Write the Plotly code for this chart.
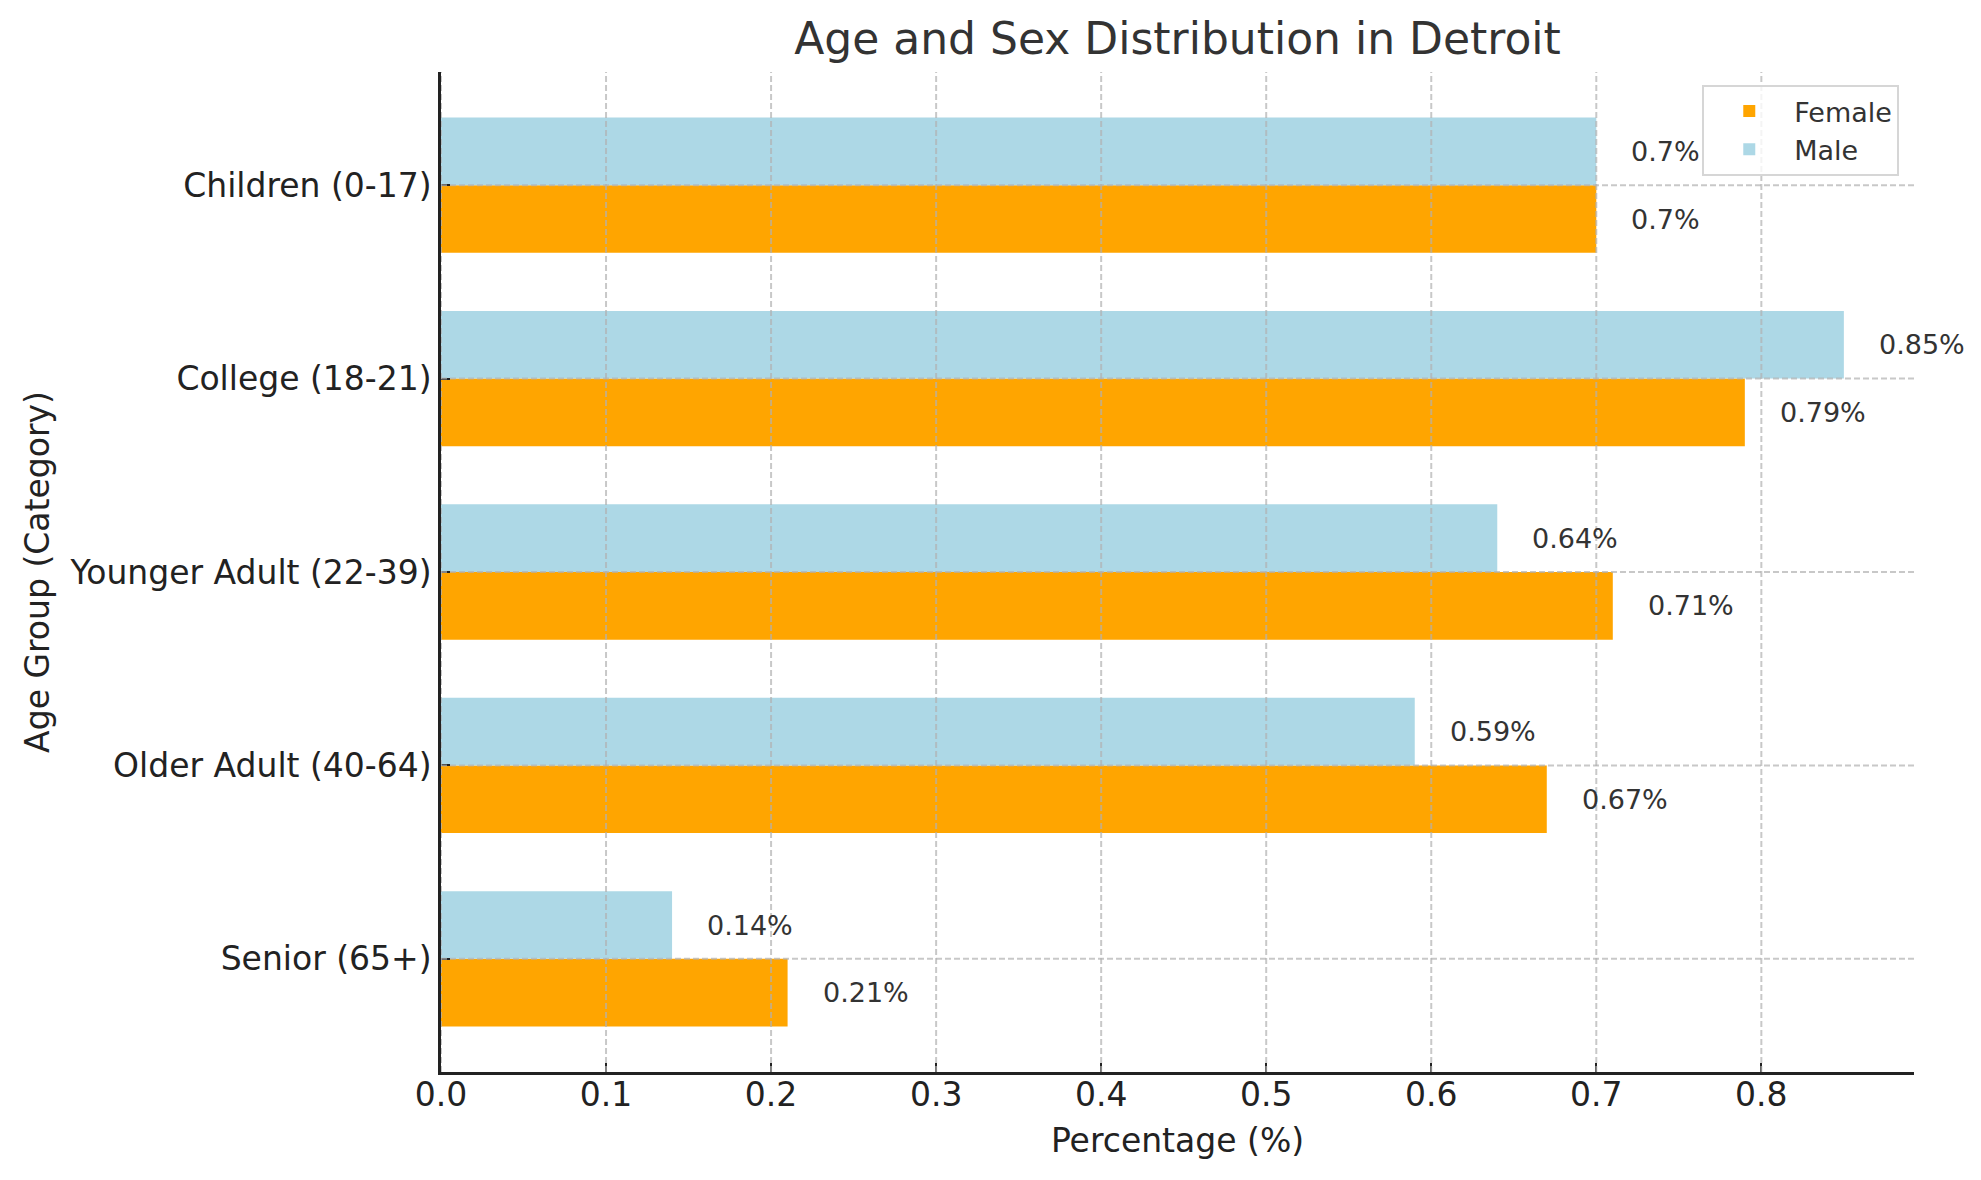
import plotly.graph_objects as go

categories = ["Children (0-17)", "College (18-21)", "Younger Adult (22-39)",
              "Older Adult (40-64)", "Senior (65+)"]
female = [0.7, 0.79, 0.71, 0.67, 0.21]
male = [0.7, 0.85, 0.64, 0.59, 0.14]
x_ticks = [0.0, 0.1, 0.2, 0.3, 0.4, 0.5, 0.6, 0.7, 0.8]
x_tick_labels = ["0.0", "0.1", "0.2", "0.3", "0.4", "0.5", "0.6", "0.7", "0.8"]

bar_width = 0.35
label_pad = 0.02
FONT = "DejaVu Sans"
FEMALE_C = "#FFA500"
MALE_C = "#ADD8E6"

W, H = 1973, 1172  # page body has an 8px margin

idx = list(range(len(categories)))
xmax = max(max(female), max(male)) * 1.05
ylo = -bar_width - 0.05 * (len(categories) - 1 + 2 * bar_width)

fig = go.Figure()
fig.add_trace(go.Bar(y=idx, x=female, orientation="h", name="Female",
                     marker=dict(color=FEMALE_C, line=dict(width=0)),
                     width=bar_width, offset=0))
fig.add_trace(go.Bar(y=idx, x=male, orientation="h", name="Male",
                     marker=dict(color=MALE_C, line=dict(width=0)),
                     width=bar_width, offset=-bar_width))

annotations = []
for i, (f, m) in enumerate(zip(female, male)):
    annotations.append(dict(x=f + label_pad, y=i + bar_width / 2, text=f"{f}%",
                            xref="x", yref="y", xanchor="left", yanchor="middle",
                            showarrow=False, font=dict(family=FONT, size=27, color="#333333")))
    annotations.append(dict(x=m + label_pad, y=i - bar_width / 2, text=f"{m}%",
                            xref="x", yref="y", xanchor="left", yanchor="middle",
                            showarrow=False, font=dict(family=FONT, size=27, color="#333333")))

grid = dict(color="rgba(176,176,176,0.7)", width=2, dash="6px,3px")
shapes = []
for t in x_ticks:
    shapes.append(dict(type="line", xref="x", yref="paper", x0=t, x1=t, y0=0, y1=1,
                       line=grid, layer="above"))
for i in idx:
    shapes.append(dict(type="line", xref="paper", yref="y", x0=0, x1=1, y0=i, y1=i,
                       line=grid, layer="above"))

fig.update_layout(
    width=W, height=H,
    margin=dict(l=433, r=67, t=64, b=108),
    paper_bgcolor="white", plot_bgcolor="white",
    barmode="overlay",
    font=dict(family=FONT, color="#222222"),
    title=dict(text="Age and Sex Distribution in Detroit", x=0.5, xanchor="center",
               xref="paper", y=1 - 31 / H, yref="container", yanchor="middle",
               font=dict(family=FONT, size=44, color="#333333")),
    xaxis=dict(range=[0, xmax], tickvals=x_ticks, ticktext=x_tick_labels,
               showgrid=False, zeroline=False, showline=True, linecolor="#222222",
               linewidth=2.5, ticks="inside", ticklen=9, tickwidth=2, tickcolor="#222222",
               ticklabelstandoff=-8,
               tickfont=dict(family=FONT, size=33, color="#222222"),
               title=dict(text="Percentage (%)", standoff=16,
                          font=dict(family=FONT, size=33, color="#222222"))),
    yaxis=dict(range=[len(categories) - 1 - ylo, ylo], tickvals=idx, ticktext=categories,
               showgrid=False, zeroline=False, showline=True, linecolor="#222222",
               linewidth=2.5, ticks="inside", ticklen=9, tickwidth=2, tickcolor="#222222",
               tickfont=dict(family=FONT, size=33, color="#222222"),
               title=dict(text="Age Group (Category)", standoff=10,
                          font=dict(family=FONT, size=33, color="#222222"))),
    legend=dict(x=0.990, y=0.987, xanchor="right", yanchor="top",
                bgcolor="rgba(255,255,255,0.8)", bordercolor="#d6d6d6", borderwidth=2,
                font=dict(family=FONT, size=27, color="#333333"), itemwidth=80,
                traceorder="normal"),
    annotations=annotations,
    shapes=shapes,
    showlegend=True,
)

fig.write_html("out.html")
